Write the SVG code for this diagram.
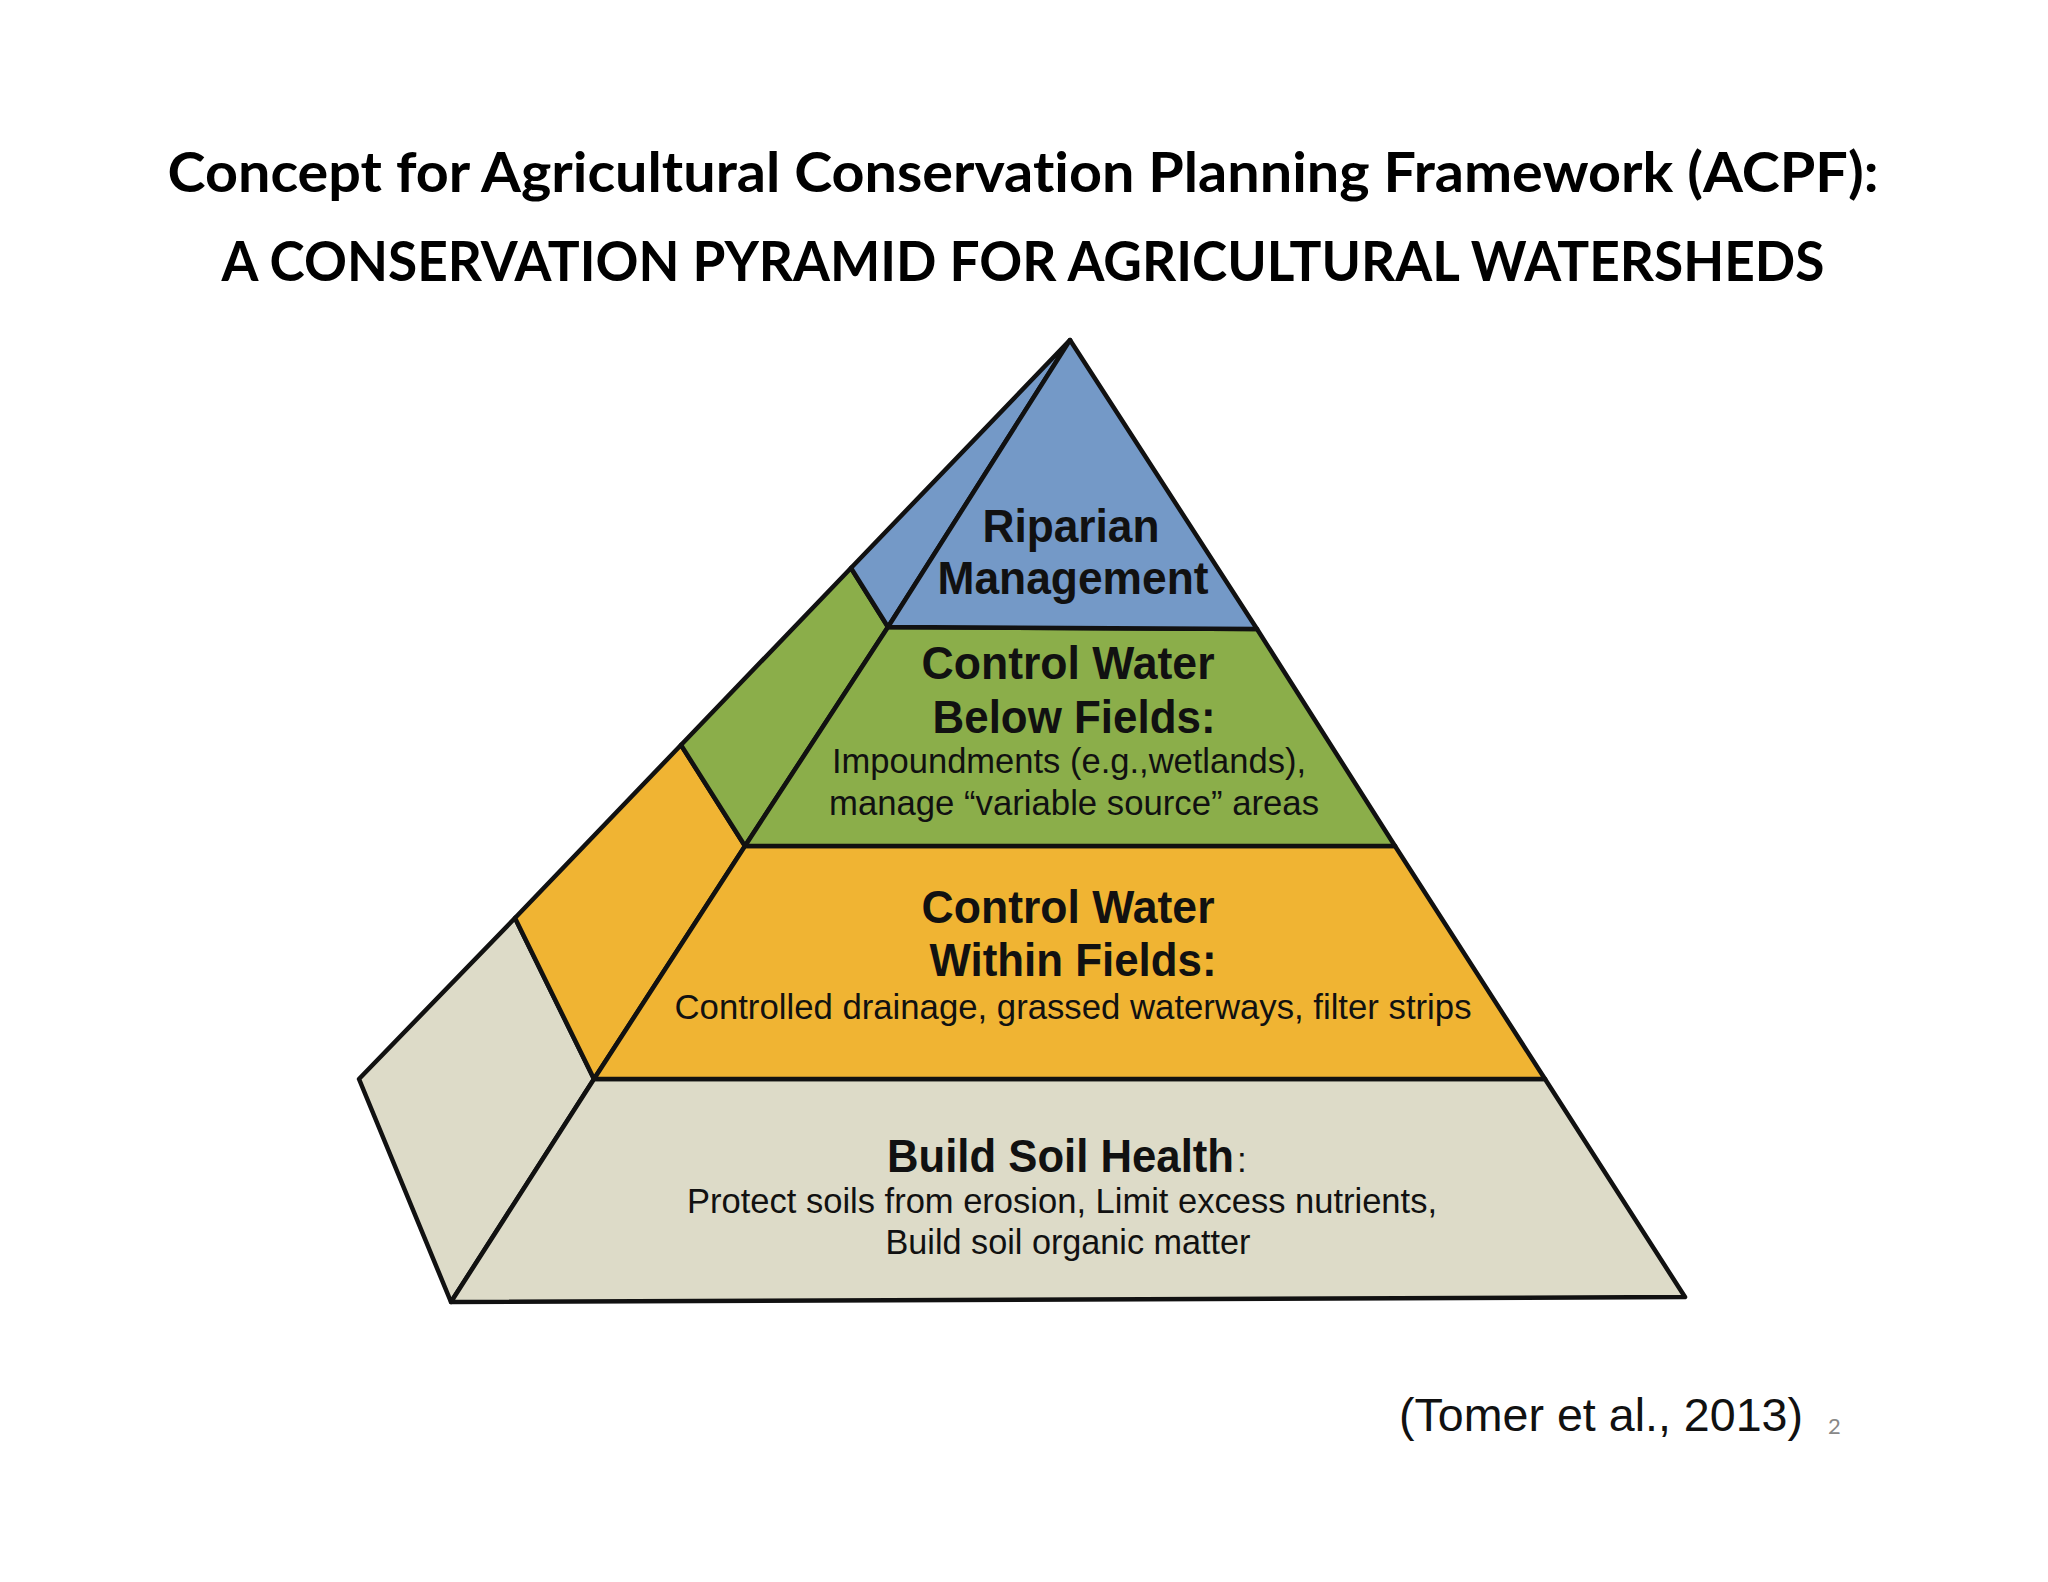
<svg xmlns="http://www.w3.org/2000/svg" width="2048" height="1582" viewBox="0 0 2048 1582">
<style>
.edge{stroke:#111;stroke-width:4.5;stroke-linejoin:round;stroke-linecap:round}
.blue{fill:#7499c7}
.green{fill:#8bae4a}
.orange{fill:#f0b433}
.beige{fill:#dddbc8}
.title{font-family:Lato,"Open Sans",sans-serif;font-weight:bold;font-size:56px;fill:#000;text-anchor:middle;font-variant-ligatures:none}
.hd{font-family:"Liberation Sans",Arial,sans-serif;font-weight:bold;font-size:46px;fill:#111;text-anchor:middle}
.bd{font-family:"Liberation Sans",Arial,sans-serif;font-size:35px;fill:#111;text-anchor:middle}
</style>
<rect width="2048" height="1582" fill="#ffffff"/>
<g id="title">
<text class="title" x="1023" y="192" textLength="1711" lengthAdjust="spacingAndGlyphs">Concept for Agricultural Conservation Planning Framework (ACPF):</text>
<text class="title" x="1023" y="281" textLength="1603" lengthAdjust="spacingAndGlyphs">A CONSERVATION PYRAMID FOR AGRICULTURAL WATERSHEDS</text>
</g>
<g id="soil-health">
<polygon class="beige edge" points="515,918 594,1079 451,1302 359,1079"/>
<polygon class="beige edge" points="594,1079 1545,1079 1685,1297 451,1302"/>
<text class="hd" x="887" y="1172" style="text-anchor:start" textLength="347" lengthAdjust="spacingAndGlyphs">Build Soil Health</text>
<text class="bd" x="1237" y="1172" style="text-anchor:start">:</text>
<text class="bd" x="1062" y="1213" textLength="750" lengthAdjust="spacingAndGlyphs">Protect soils from erosion, Limit excess nutrients,</text>
<text class="bd" x="1068" y="1254" textLength="365" lengthAdjust="spacingAndGlyphs">Build soil organic matter</text>
</g>
<g id="within-fields">
<polygon class="orange edge" points="681,745 745,846 594,1079 515,918"/>
<polygon class="orange edge" points="745,846 1395,846 1545,1079 594,1079"/>
<text class="hd" x="1068" y="923" textLength="293" lengthAdjust="spacingAndGlyphs">Control Water</text>
<text class="hd" x="1073" y="976" textLength="287" lengthAdjust="spacingAndGlyphs">Within Fields:</text>
<text class="bd" x="1073" y="1019" textLength="797" lengthAdjust="spacingAndGlyphs">Controlled drainage, grassed waterways, filter strips</text>
</g>
<g id="below-fields">
<polygon class="green edge" points="851,568 888,627 745,846 681,745"/>
<polygon class="green edge" points="888,627 1257,629 1395,846 745,846"/>
<text class="hd" x="1068" y="679" textLength="293" lengthAdjust="spacingAndGlyphs">Control Water</text>
<text class="hd" x="1074" y="733" textLength="283" lengthAdjust="spacingAndGlyphs">Below Fields:</text>
<text class="bd" x="1069" y="773" textLength="474" lengthAdjust="spacingAndGlyphs">Impoundments (e.g.,wetlands),</text>
<text class="bd" x="1074" y="815" textLength="490" lengthAdjust="spacingAndGlyphs">manage “variable source” areas</text>
</g>
<g id="riparian">
<polygon class="blue edge" points="1070,340 851,568 888,627"/>
<polygon class="blue edge" points="1070,340 888,627 1257,629"/>
<text class="hd" x="1071" y="542" textLength="177" lengthAdjust="spacingAndGlyphs">Riparian</text>
<text class="hd" x="1073" y="594" textLength="271" lengthAdjust="spacingAndGlyphs">Management</text>
</g>
<g id="citation">
<text x="1399" y="1431" font-family="'Liberation Sans',Arial,sans-serif" font-size="46" fill="#111" textLength="404" lengthAdjust="spacingAndGlyphs">(Tomer et al., 2013)</text>
<text x="1828" y="1434" font-family="Lato,'Open Sans',sans-serif" font-size="22" fill="#888">2</text>
</g>
</svg>
